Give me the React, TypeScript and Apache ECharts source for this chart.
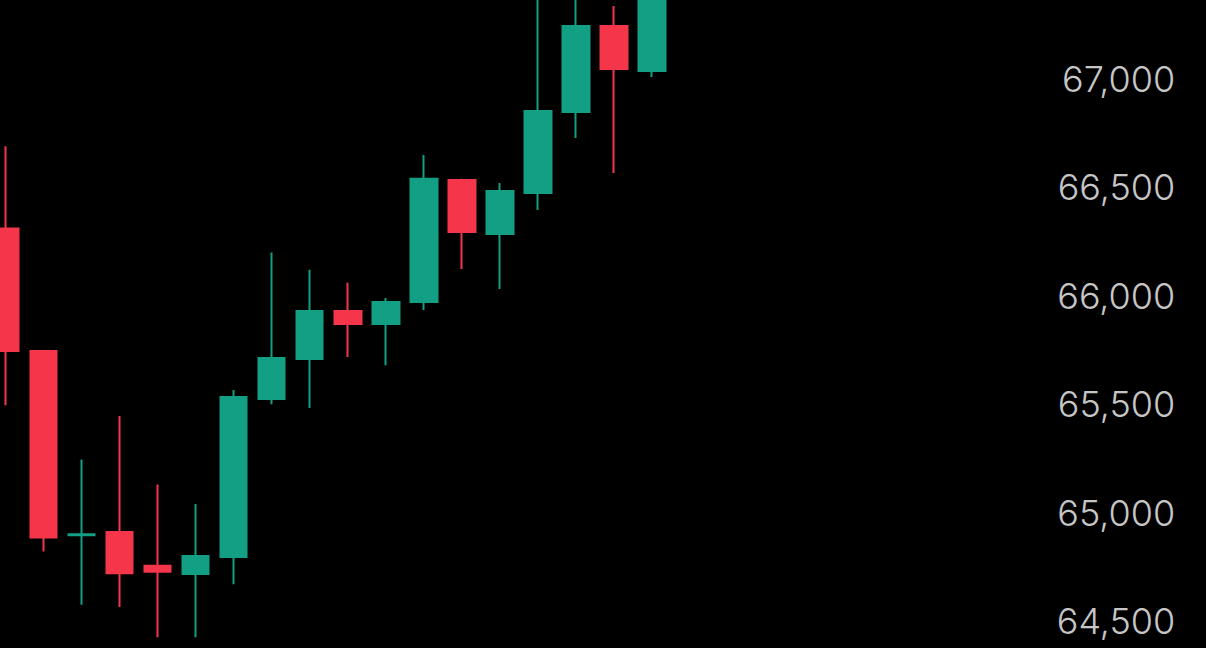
import React, { useEffect, useRef } from "react";
import * as echarts from "echarts";

// Candle slots (hourly bars); only the first 18 hold data, the rest is empty space on the right
const categories: string[] = [
  "01", "02", "03", "04", "05", "06", "07", "08", "09", "10",
  "11", "12", "13", "14", "15", "16", "17", "18", "19", "20",
  "21", "22", "23", "24", "25", "26", "27", "28",
];

// OHLC values
const opens: number[] = [66310, 65745, 64895, 64910, 64755, 64717, 64795, 65524, 65708, 65930, 65870, 65971, 66534, 66285, 66474, 66848, 67244, 67037];
const closes: number[] = [65745, 64885, 64900, 64720, 64727, 64800, 65533, 65713, 65930, 65870, 65971, 66540, 66294, 66483, 66852, 67244, 67046, 67600];
const lows: number[] = [65495, 64820, 64575, 64565, 64425, 64425, 64670, 65500, 65483, 65718, 65680, 65935, 66124, 66031, 66396, 66728, 66566, 67009];
const highs: number[] = [66690, 65750, 65245, 65445, 65130, 65040, 65565, 66200, 66120, 66060, 65990, 66650, 66540, 66520, 67450, 67420, 67337, 67700];

const yMin = 64000;
const yMax = 67500;
const yStep = 500;

export default function App() {
  const ref = useRef<HTMLDivElement>(null);

  useEffect(() => {
    if (!ref.current) return;
    const chart = echarts.init(ref.current, undefined, { renderer: "svg" });
    const data = opens.map((o, i) => [o, closes[i], lows[i], highs[i]]);
    chart.setOption({
      animation: false,
      backgroundColor: "#000000",
      grid: {
        left: -13.5,
        right: 154.7,
        top: -29.4,
        bottom: -81.4,
        containLabel: false,
        outerBoundsMode: "none",
      },
      xAxis: {
        type: "category",
        data: categories,
        boundaryGap: true,
        show: false,
      },
      yAxis: {
        type: "value",
        position: "right",
        min: yMin,
        max: yMax,
        interval: yStep,
        axisLine: { show: false },
        axisTick: { show: false },
        splitLine: { show: false },
        axisLabel: {
          show: true,
          showMinLabel: false,
          showMaxLabel: false,
          align: "right",
          margin: 124,
          color: "#c6c6c6",
          fontSize: 36,
          fontWeight: 300,
          fontFamily: "Inter",
          formatter: (v: number) => v.toLocaleString("en-US"),
        },
      },
      series: [
        {
          type: "candlestick",
          data,
          barWidth: 27,
          clip: false,
          itemStyle: {
            color: "#139F84",
            color0: "#F5364A",
            borderColor: "#139F84",
            borderColor0: "#F5364A",
            borderWidth: 2,
          },
        },
      ],
    });
    return () => chart.dispose();
  }, []);

  return (
    <div
      ref={ref}
      style={{ position: "fixed", left: 0, top: 0, width: 1206, height: 648, background: "#000" }}
    />
  );
}
